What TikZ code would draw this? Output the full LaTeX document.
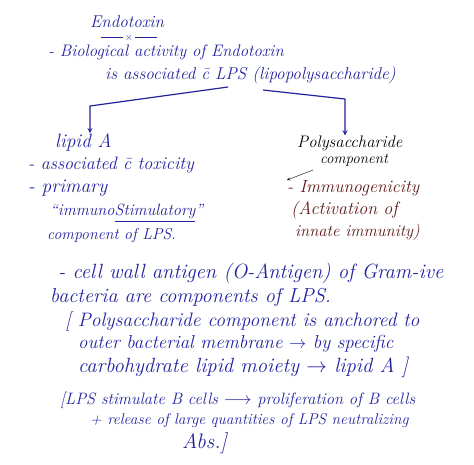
\documentclass[tikz,border=0pt]{standalone}
\usepackage{amsmath,fontspec,tikz}
\definecolor{ink}{RGB}{35,35,160}
\definecolor{redink}{RGB}{95,25,25}
\tikzset{
  note/.style={anchor=west, inner sep=0pt, text=ink, font=\itshape\fontsize{17}{19}\selectfont},
  sz/.style={font=\itshape\fontsize{#1}{#1}\selectfont},
  rnote/.style={note, text=redink},
  wire/.style={draw=ink, line width=1.2pt}
}

\begin{document}
\begin{tikzpicture}[x=1pt, y=-1pt, >=stealth]
	\useasboundingbox[fill=white] (0,0) rectangle (474,464);
	% heading
	\node[note, sz=17] (title) at (90,22) {Endotoxin};
	\node[note, anchor=center, font=\fontsize{10}{10}\selectfont] (sep) at (129,38) {\rule[2.5pt]{22pt}{0.6pt}\,$\times$\,\rule[2.5pt]{22pt}{0.6pt}};
	\node[note, sz=16.7] (bio1) at (48,52) {- Biological activity of Endotoxin};
	\node[note, sz=17.1] (bio2) at (105,75) {is associated \={c} LPS (lipopolysaccharide)};
	\coordinate (lps) at (228,87);
	\coordinate (lpsr) at (263,90);
	\coordinate (lk) at (90,106);
	\coordinate (rk) at (345,99);
	% left branch
	\node[note, sz=19.3] (lipidA) at (55,142) {lipid A};
	\node[note, sz=18] (tox) at (28,165) {- associated \={c} toxicity};
	\node[note, sz=19.3] (prim) at (28,188) {- primary};
	\node[note, sz=16.3] (immuno) at (50,213) {``immuno\underline{Stimulatory}''};
	\node[note, sz=15.8] (comp) at (47,236) {component of LPS.};
	% right branch
	\node[note, sz=16.7, text=black] (poly) at (297,143) {Polysaccharide};
	\node[note, sz=15, text=black] (polyc) at (320,160) {component};
	\node[rnote, sz=17.6] (immg) at (287,188) {- Immunogenicity};
	\node[rnote, sz=18] (act) at (291,210) {(Activation of};
	\node[rnote, sz=16.6] (innate) at (295,232) {innate immunity)};
	\coordinate (tk) at (313,170);
	\draw[->, black, thin] (tk) -- (immg.north west);
	\draw[wire, ->] (lps) -- (lk) -- (lk |- lipidA.north);
	\draw[wire, ->] (lpsr) -- (rk) -- (rk |- poly.north);
	% lower notes
	\node[note, sz=20.6] (wall1) at (58,273) {- cell wall antigen (O-Antigen) of Gram-ive};
	\node[note, sz=20.2] (wall2) at (50,297) {bacteria are components of LPS.};
	\node[note, sz=19.5] (anc1) at (65,322) {[ Polysaccharide component is anchored to};
	\node[note, sz=18.8] (anc2) at (78,344) {outer bacterial membrane $\rightarrow$ by specific};
	\node[note, sz=20.6] (anc3) at (78,367) {carbohydrate lipid moiety $\rightarrow$ lipid A ]};
	\node[note, sz=16.5] (bc1) at (60,400) {[LPS stimulate B cells $\longrightarrow$ proliferation of B cells};
	\node[note, sz=15.5] (bc2) at (90,421) {+ release of large quantities of LPS neutralizing};
	\node[note, sz=21] (bc3) at (182,443) {Abs.]};
\end{tikzpicture}
\end{document}
